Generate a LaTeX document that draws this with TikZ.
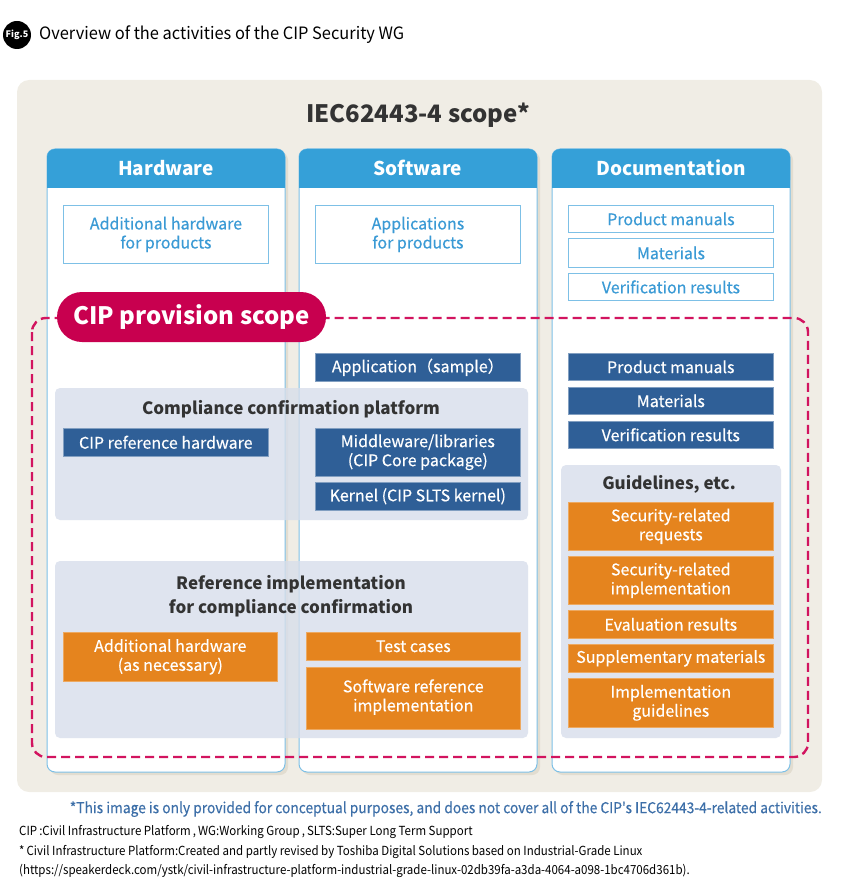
\documentclass[tikz,border=0pt]{standalone}
\usepackage{fontspec}
\setmainfont{Noto Sans CJK JP}
\newfontfamily\notefont[FakeStretch=0.92]{Noto Sans CJK JP}
\newfontfamily\notebfont[FakeStretch=0.92,FakeBold=0.4]{Noto Sans CJK JP}
\newfontfamily\boxfont[FakeBold=0.4]{Noto Sans CJK JP}
\newfontfamily\titlefont[FakeStretch=0.965]{Noto Sans CJK JP}
\definecolor{beige}{HTML}{F0EDE5}
\definecolor{shadowc}{HTML}{E2DDD0}
\definecolor{hdrblue}{HTML}{35A0D8}
\definecolor{colborder}{HTML}{7DC0E6}
\definecolor{lightblue}{HTML}{3A9AD5}
\definecolor{darkblue}{HTML}{2F5F97}
\definecolor{panel}{RGB}{215,222,235}
\definecolor{orange}{HTML}{E5841E}
\definecolor{crimson}{HTML}{C8004F}
\definecolor{dashred}{HTML}{D2145F}
\definecolor{txtdark}{HTML}{333333}
\definecolor{noteblue}{HTML}{3D6FA8}
\tikzset{
  outbox/.style={draw=colborder, line width=0.9pt, fill=white, text=lightblue, align=center, anchor=north west, inner sep=0pt, font=\boxfont\fontsize{16}{19}\selectfont},
  dbox/.style={fill=darkblue, draw=darkblue!60!white, line width=0.6pt, text=white, align=center, anchor=north west, inner sep=0pt, font=\boxfont\fontsize{16}{19}\selectfont},
  obox/.style={fill=orange, draw=orange!70!white, line width=0.6pt, text=white, align=center, anchor=north west, inner sep=0pt, font=\boxfont\fontsize{16}{19}\selectfont},
  pnl/.style={fill=panel, fill opacity=0.8, rounded corners=5pt},
  ptitle/.style={text=txtdark, font=\fontsize{17}{24}\bfseries\selectfont, align=center},
  hdr/.style={text=white, font=\fontsize{19}{22}\bfseries\selectfont},
  note/.style={anchor=west, inner sep=0pt, font=\notefont\fontsize{12.5}{15}\selectfont},
}
\begin{document}
\begin{tikzpicture}[x=1pt,y=-1pt]
\useasboundingbox (0,0) rectangle (840,896);
% title
\fill[black] (17,35) circle (14);
\node (fig) at (17,35) {\textcolor{white}{\fontsize{9}{10}\bfseries\selectfont Fig.5}};
\node[anchor=west, inner sep=0pt, font=\titlefont\fontsize{17}{20}\selectfont] (title) at (39,35) {Overview of the activities of the CIP Security WG};
% background
\fill[beige, rounded corners=12pt] (17,80) rectangle (822,792);
\node[ptitle, font=\fontsize{24}{28}\bfseries\selectfont] (iec) at (418,115) {IEC62443-4 scope*};
% columns
\foreach \x/\name/\lab in {47/hw/Hardware,299/sw/Software,552/doc/Documentation}{
  \fill[shadowc, rounded corners=8pt] (\x+3,152) rectangle (\x+241,775);
  \draw[colborder, fill=white, line width=1pt, rounded corners=8pt] (\x,149) rectangle (\x+238,772);
  \fill[hdrblue, rounded corners=8pt] (\x,149) -- (\x+238,149) -- (\x+238,188) -- (\x,188) -- cycle;
  \fill[hdrblue] (\x,170) rectangle (\x+238,188);
  \node[hdr] (\name) at (\x+119,168) {\lab};
}
% IEC scope boxes
\node[outbox, minimum width=205pt, minimum height=58pt] (ahp) at (63,205) {Additional hardware\\for products};
\node[outbox, minimum width=205pt, minimum height=58pt] (app) at (315,205) {Applications\\for products};
\node[outbox, minimum width=205pt, minimum height=27pt] (pm1) at (568,205) {Product manuals};
\node[outbox, minimum width=205pt, minimum height=29pt] (mat1) at (568,238) {Materials};
\node[outbox, minimum width=205pt, minimum height=27pt] (vr1) at (568,273) {Verification results};
% panels
\fill[pnl] (55,388) rectangle (528,520);
\fill[pnl] (55,561) rectangle (528,738);
\fill[pnl] (561,465) rectangle (781,738);
\node[ptitle] (ccp) at (291,409) {Compliance confirmation platform};
\node[ptitle] (rif) at (291,596) {Reference implementation\\for compliance confirmation};
\node[ptitle] (gl) at (669,484) {Guidelines, etc.};
% dark blue boxes
\node[dbox, minimum width=205pt, minimum height=28pt] (aps) at (315,353) {Application（sample）};
\node[dbox, minimum width=205pt, minimum height=27pt] (pm2) at (568,353) {Product manuals};
\node[dbox, minimum width=205pt, minimum height=27pt] (mat2) at (568,387) {Materials};
\node[dbox, minimum width=205pt, minimum height=27pt] (vr2) at (568,421) {Verification results};
\node[dbox, minimum width=205pt, minimum height=28pt] (crh) at (63,428) {CIP reference hardware};
\node[dbox, minimum width=205pt, minimum height=48pt] (mw) at (315,428) {Middleware/libraries\\(CIP Core package)};
\node[dbox, minimum width=205pt, minimum height=28pt] (kern) at (315,482) {Kernel (CIP SLTS kernel)};
% orange boxes
\node[obox, minimum width=214pt, minimum height=49pt] (ahn) at (63,632) {Additional hardware\\(as necessary)};
\node[obox, minimum width=214pt, minimum height=28pt] (tc) at (306,632) {Test cases};
\node[obox, minimum width=214pt, minimum height=62pt, text depth=6pt] (sri) at (306,667) {Software reference\\implementation};
\node[obox, minimum width=205pt, minimum height=48pt] (srr) at (568,502) {Security-related\\requests};
\node[obox, minimum width=205pt, minimum height=48pt] (srimp) at (568,556) {Security-related\\implementation};
\node[obox, minimum width=205pt, minimum height=28pt] (er) at (568,610) {Evaluation results};
\node[obox, minimum width=205pt, minimum height=28pt] (sm) at (568,644) {Supplementary materials};
\node[obox, minimum width=205pt, minimum height=49pt] (ig) at (568,678) {Implementation\\guidelines};
% provision scope
\draw[dashred, line width=2.4pt, dash pattern=on 9pt off 5pt, rounded corners=14pt] (32,318) rectangle (808,757);
\node[fill=crimson, rounded corners=25pt, minimum width=269pt, minimum height=50pt, text=white, inner sep=0pt, font=\fontsize{24}{28}\bfseries\selectfont] (cps) at (191.5,317) {CIP provision scope};
% notes
\node[anchor=east, inner sep=0pt, text=noteblue, font=\notebfont\fontsize{15}{18}\selectfont] (n1) at (822,809) {*This image is only provided for conceptual purposes, and does not cover all of the CIP's IEC62443-4-related activities.};
\node[note] (n2) at (19,832) {CIP\,:Civil Infrastructure Platform\,,\,WG:Working Group\,,\,SLTS:Super Long Term Support};
\node[note] (n3) at (19,852) {*\,Civil Infrastructure Platform:Created and partly revised by Toshiba Digital Solutions based on Industrial-Grade Linux};
\node[note] (n4) at (19,871) {(https://speakerdeck.com/ystk/civil-infrastructure-platform-industrial-grade-linux-02db39fa-a3da-4064-a098-1bc4706d361b).};
\end{tikzpicture}
\end{document}
